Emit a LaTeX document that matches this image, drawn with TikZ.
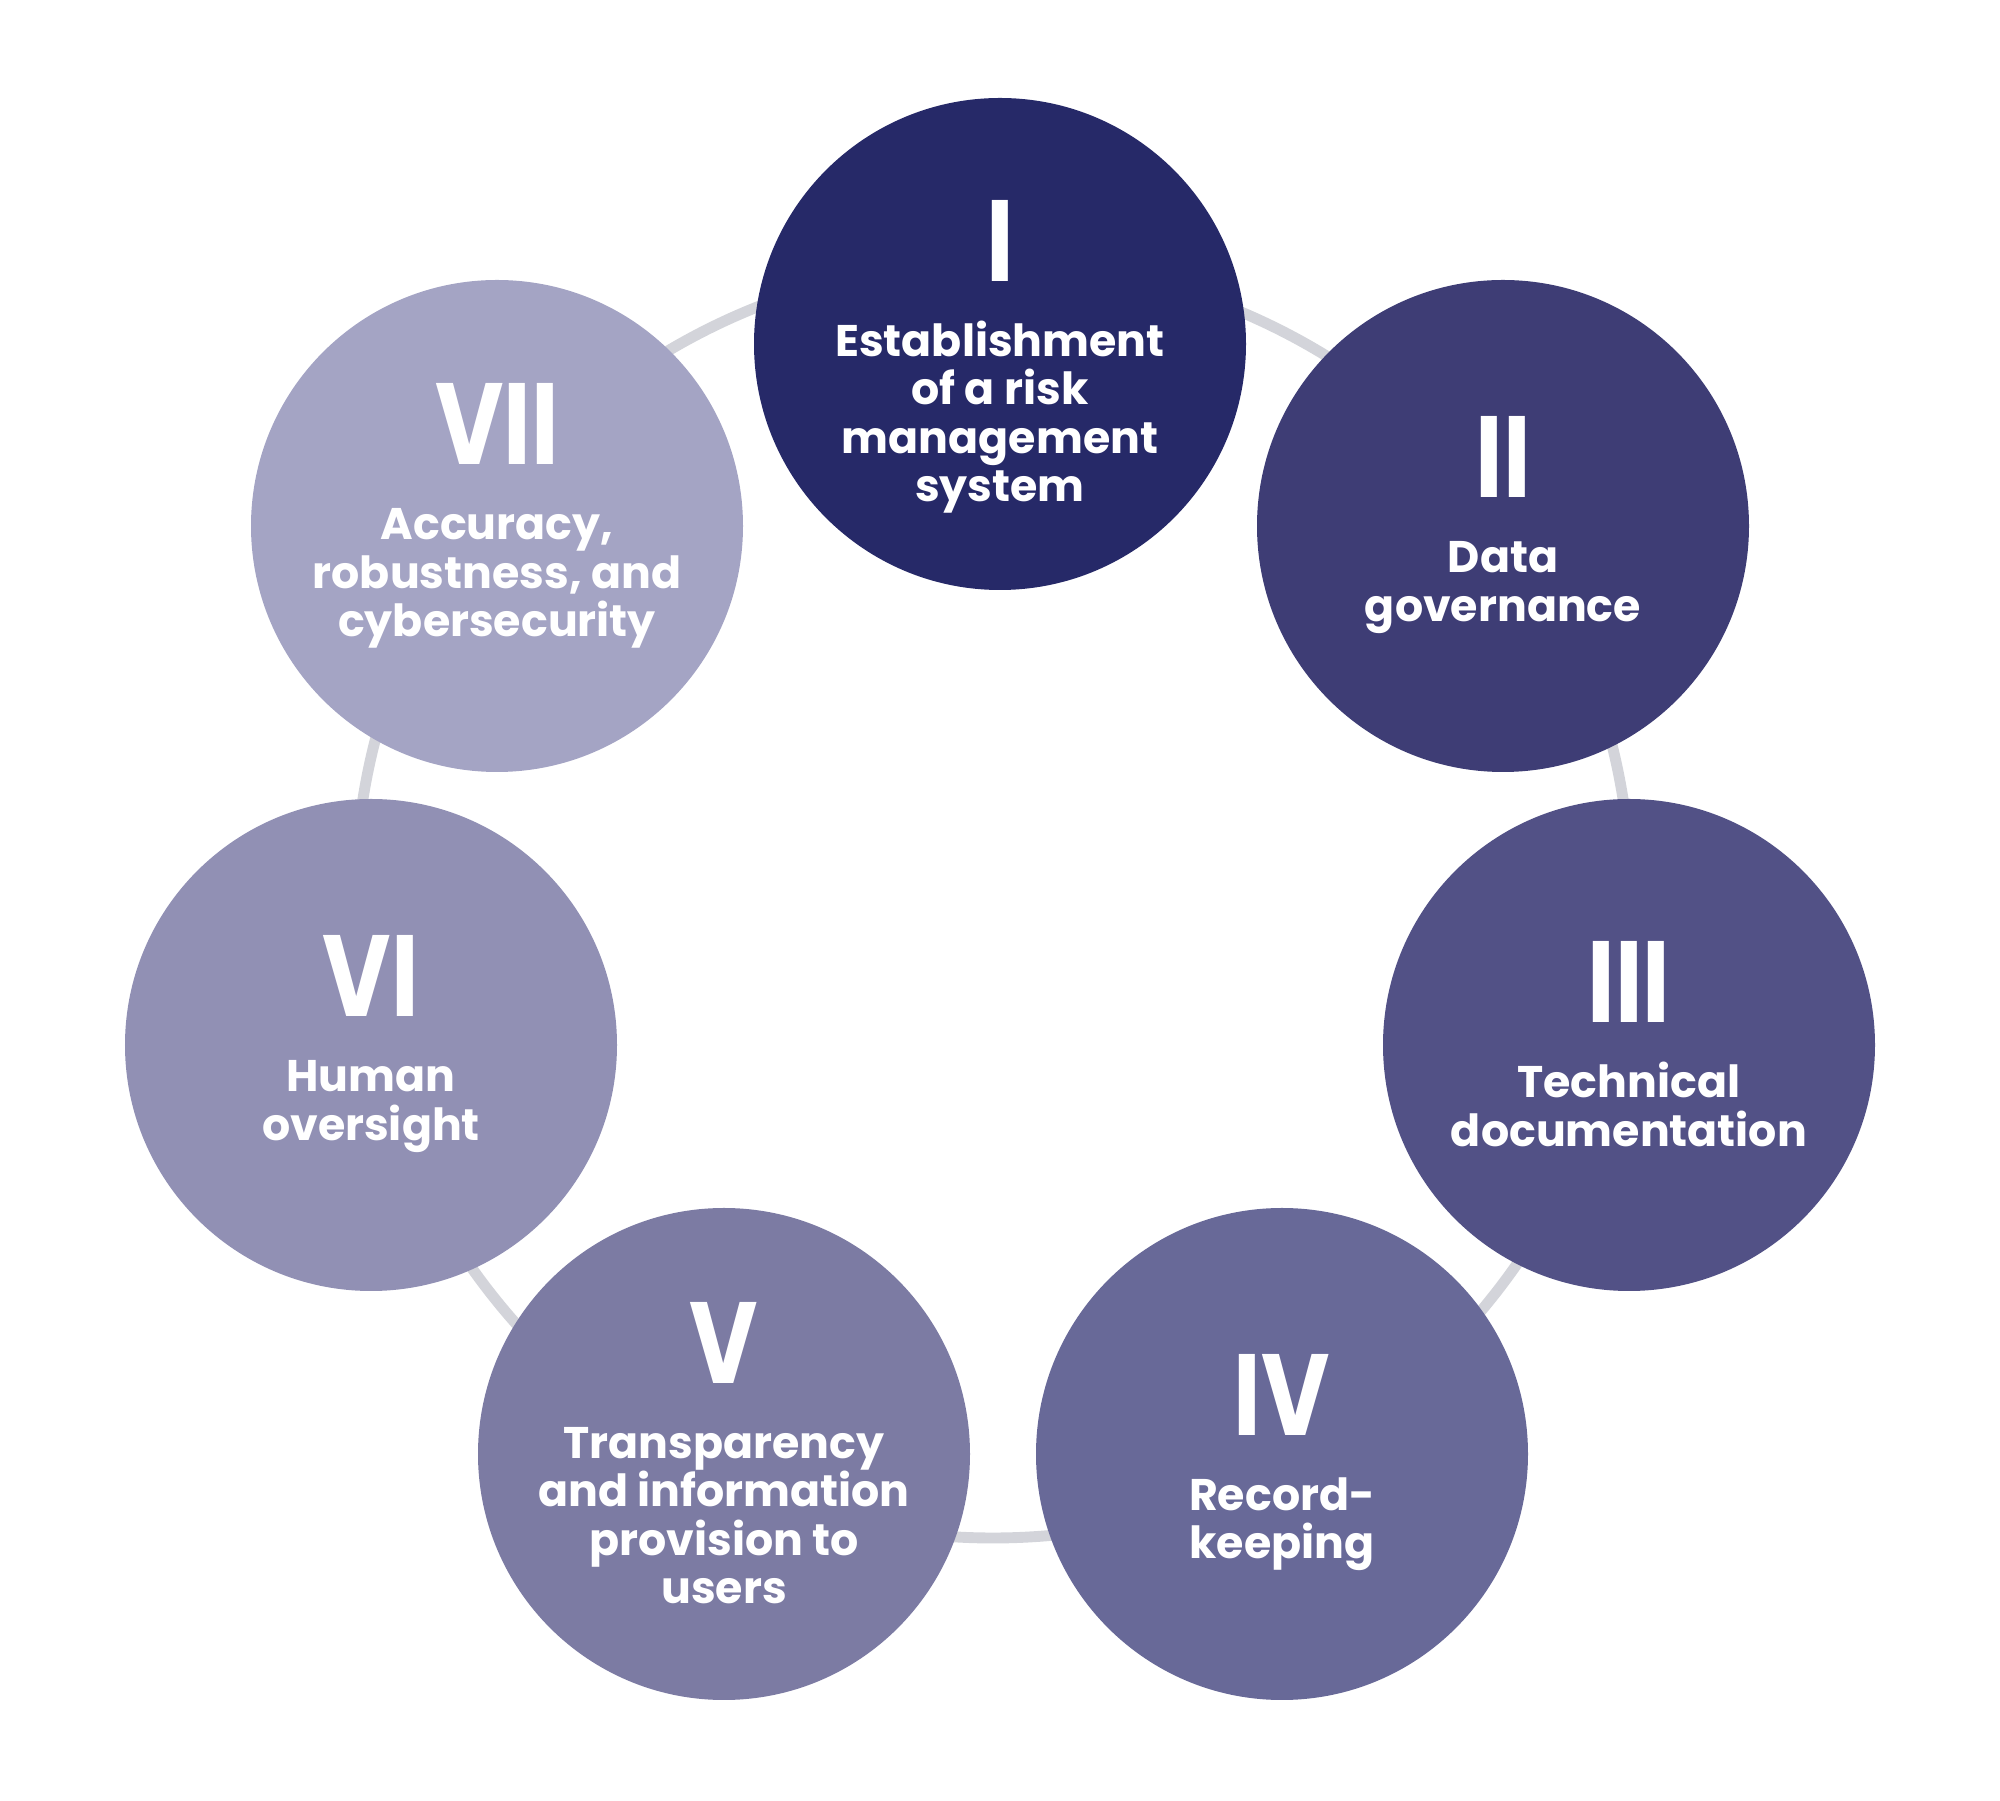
\documentclass[tikz,border=0pt]{standalone}
\usepackage{fontspec}
\usepackage{xcolor}
\usepackage{graphicx}
\usepackage{tikz}
\usetikzlibrary{positioning}
\setmainfont{Poppins}

\definecolor{ringgray}{HTML}{D3D4DA}
\definecolor{stageA}{HTML}{262968}
\definecolor{stageB}{HTML}{3E3D75}
\definecolor{stageC}{HTML}{525186}
\definecolor{stageD}{HTML}{686998}
\definecolor{stageE}{HTML}{7C7BA3}
\definecolor{stageF}{HTML}{9190B4}
\definecolor{stageG}{HTML}{A4A4C4}

% roman numeral on top of a stage, #1 = extra room above it
\newcommand{\numeral}[2][0pt]{%
  \raisebox{0pt}[\dimexpr 22.5pt+#1\relax]{\scalebox{0.86}[1.06]{\fontsize{31}{31}\selectfont\bfseries #2}}\\[7.5pt]}

\begin{document}
\begin{tikzpicture}[x=1mm, y=1mm,
    stage/.style={circle, draw=none, minimum size=49.2mm, inner sep=0pt,
      text=white, align=center, font=\fontsize{12.6}{13.8}\selectfont\bfseries}]
    \useasboundingbox (0,0) rectangle (200,180.1);
    % ring behind the stages
    \draw[color=ringgray, line width=3.1pt] (99.3,90.1) circle[radius=63.8];
    \node[stage, fill=stageA] (s1) at (100,145.7)
      {\numeral[8pt]{I}Establishment\\of a risk\\management\\system};
    \node[stage, fill=stageB] (s2) at (150.3,127.5)
      {\numeral{II}Data\\governance};
    \node[stage, fill=stageC] (s3) at (162.9,75.6)
      {\numeral{III}Technical\\documentation};
    \node[stage, fill=stageD] (s4) at (128.2,34.7)
      {\numeral[5.5pt]{IV}Record-\\keeping};
    \node[stage, fill=stageE] (s5) at (72.4,34.7)
      {\numeral{V}Transparency\\and information\\provision to\\users};
    \node[stage, fill=stageF] (s6) at (37.1,75.6)
      {\numeral{VI}Human\\oversight};
    \node[stage, fill=stageG] (s7) at (49.7,127.5)
      {\numeral[-5pt]{VII}Accuracy,\\robustness, and\\cybersecurity};
  \end{tikzpicture}
\end{document}
